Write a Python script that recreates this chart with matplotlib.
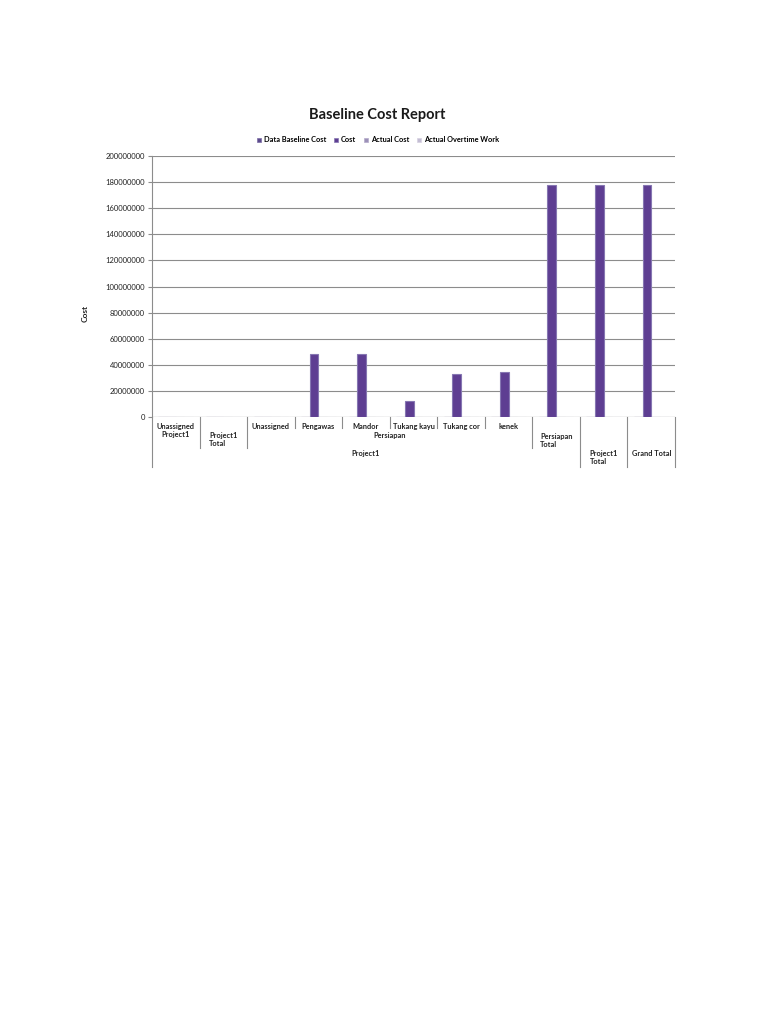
import matplotlib
matplotlib.use("Agg")
import matplotlib.pyplot as plt
from matplotlib.patches import Patch
import numpy as np

plt.rcParams['font.family'] = ['Lato', 'DejaVu Sans']

# ---- data ----
categories = ["Unassigned\nProject1", "Project1\nTotal", "Unassigned", "Pengawas", "Mandor",
              "Tukang kayu", "Tukang cor", "kenek", "Persiapan\nTotal", "Project1\nTotal", "Grand Total"]
series_names = ["Data Baseline Cost", "Cost", "Actual Cost", "Actual Overtime Work"]
data_baseline_cost = [0, 0, 0, 0, 0, 0, 0, 0, 0, 0, 0]
cost = [0, 0, 0, 48300000, 48300000, 12300000, 33000000, 34500000, 177400000, 177400000, 177400000]
actual_cost = [0, 0, 0, 0, 0, 0, 0, 0, 0, 0, 0]
actual_overtime_work = [0, 0, 0, 0, 0, 0, 0, 0, 0, 0, 0]
y_ticks = [0, 20000000, 40000000, 60000000, 80000000, 100000000, 120000000,
           140000000, 160000000, 180000000, 200000000]
group_mid_label = "Persiapan"
group_top_label = "Project1"

series = [data_baseline_cost, cost, actual_cost, actual_overtime_work]
colors = ["#5B4A8C", "#5E3E92", "#9C91B8", "#C3BDD3"]
edge_colors = ["#7C6CA6", "#8677B2", "#B5ABCB", "#D6D1E1"]

W, H = 768, 1024
fig = plt.figure(figsize=(W / 100, H / 100), dpi=100)
ax_left, ax_right, ax_top, ax_bot = 152, 675, 156, 417
ax = fig.add_axes([ax_left / W, 1 - ax_bot / H, (ax_right - ax_left) / W, (ax_bot - ax_top) / H])

n = len(categories)
x = np.arange(n)
bw = 1 / 5.5
for i, (vals, c, ec) in enumerate(zip(series, colors, edge_colors)):
    ax.bar(x + (i - 1.5) * bw, vals, width=bw, color=c, edgecolor=ec, linewidth=0.8, zorder=3,
           label=series_names[i])

ax.set_xlim(-0.5, n - 0.5)
ax.set_ylim(0, 200000000)
ax.set_yticks(y_ticks)
ax.set_yticklabels([str(v) for v in y_ticks], fontsize=5.5, color="#222222")
ax.yaxis.grid(True, color="#8C8C8C", linewidth=0.8, zorder=0)
ax.set_axisbelow(True)
ax.tick_params(axis='y', length=3, width=0.8, color="#8C8C8C", pad=2)
ax.set_xticks([])
for s in ["top", "right", "bottom"]:
    ax.spines[s].set_visible(False)
ax.spines["left"].set_color("#8C8C8C")
ax.spines["left"].set_linewidth(0.8)
ax.axhline(0, color="#8C8C8C", linewidth=0.8, zorder=2)

ph = ax_bot - ax_top


def fy(py):
    return -(py - ax_bot) / ph


tr = ax.get_xaxis_transform()
# separator lines
sep_depth = {-0.5: 467, 0.5: 448, 1.5: 448, 2.5: 428, 3.5: 428, 4.5: 428, 5.5: 428,
             6.5: 428, 7.5: 448, 8.5: 467, 9.5: 467, 10.5: 467}
for xs, d in sep_depth.items():
    ax.plot([xs, xs], [0, fy(d)], transform=tr, color="#8C8C8C", linewidth=0.8, clip_on=False)

# category labels with vertical placement
label_top = {0: 423, 1: 432, 2: 423, 3: 423, 4: 423, 5: 423, 6: 423, 7: 423, 8: 433, 9: 450, 10: 450}
for i, lab in enumerate(categories):
    ax.text(i, fy(label_top[i]), lab, transform=tr, ha="center", va="top", fontsize=5.3,
            fontweight="bold", color="#222222", multialignment="left" if i in (1, 8, 9) else "center",
            linespacing=1.15)
ax.text(4.5, fy(432), group_mid_label, transform=tr, ha="center", va="top", fontsize=5.3,
        fontweight="bold", color="#222222")
ax.text(4, fy(450), group_top_label, transform=tr, ha="center", va="top", fontsize=5.3,
        fontweight="bold", color="#222222")

# title, legend, y label
fig.text(377 / W, 1 - 115 / H, "Baseline Cost Report", ha="center", va="center",
         fontsize=10.5, fontweight="bold", color="#1a1a1a")
handles = [Patch(facecolor=c, edgecolor=ec, linewidth=0.5) for c, ec in zip(colors, edge_colors)]
fig.legend(handles, series_names, loc="center", bbox_to_anchor=(378 / W, 1 - 140 / H), ncol=4,
           frameon=False, fontsize=5.3, handlelength=0.6, handleheight=0.6, handletextpad=0.4,
           columnspacing=1.0, prop={"weight": "bold", "size": 5.3})
fig.text(85 / W, 1 - 313 / H, "Cost", rotation=90, ha="center", va="center", fontsize=6,
         fontweight="bold", color="#222222")

fig.savefig("out.png", dpi=100, facecolor="white")
